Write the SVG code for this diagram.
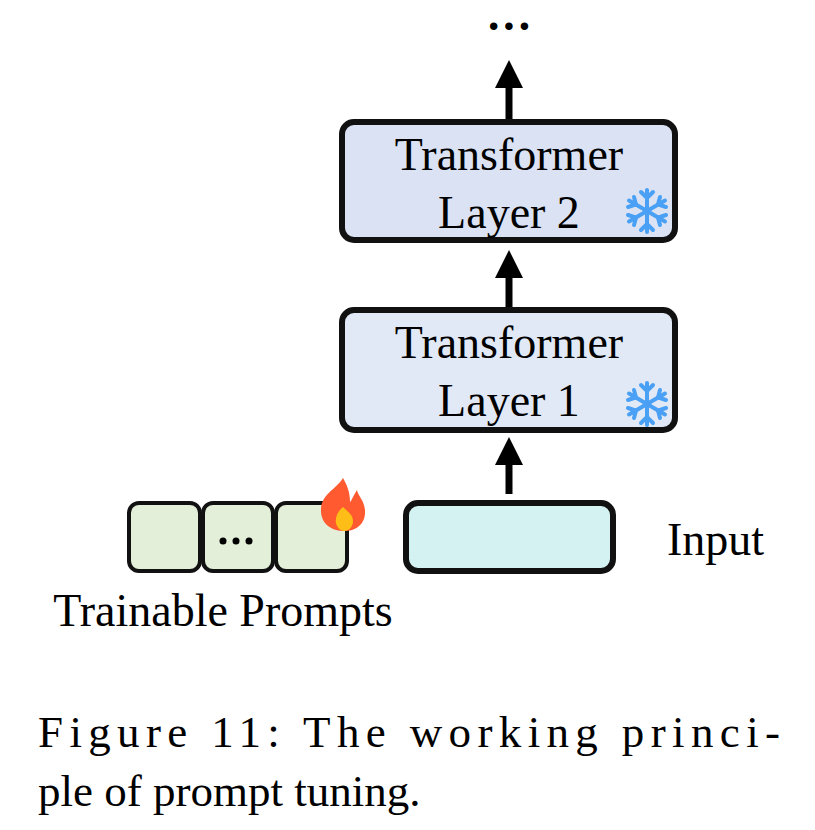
<svg xmlns="http://www.w3.org/2000/svg" width="815" height="830" viewBox="0 0 815 830">
<style>
.t{font-family:"Liberation Serif",serif;font-size:46px;fill:#000}
.box{stroke:#111;stroke-width:6}
.sf{stroke:#4aa0f5;stroke-width:4;stroke-linecap:round;fill:none}
.cap{font-family:"Liberation Serif",serif;font-size:45px;fill:#000}
</style>
<defs>
<marker id="ah" markerWidth="4" markerHeight="4" refX="2" refY="2" orient="auto" markerUnits="strokeWidth"><path d="M0,0 L4,2 L0,4 z" fill="#000"/></marker>
<g id="snow" class="sf">
<line x1="0" y1="-21" x2="0" y2="21"/><line x1="-18" y1="-10.5" x2="18" y2="10.5"/><line x1="-18" y1="10.5" x2="18" y2="-10.5"/>
<path d="M-6,-19 L0,-13 L6,-19 M-6,19 L0,13 L6,19 M-19,-4 L-11,-6.5 L-13,-14 M19,4 L11,6.5 L13,14 M-19,4 L-11,6.5 L-13,14 M19,-4 L11,-6.5 L13,-14"/>
</g>
</defs>
<rect width="815" height="830" fill="#fff"/>
<g id="connectors" stroke="#000" stroke-width="7">
<line x1="509" y1="122" x2="509" y2="74" marker-end="url(#ah)"/>
<line x1="509" y1="310" x2="509" y2="264" marker-end="url(#ah)"/>
<line x1="509" y1="494" x2="509" y2="451" marker-end="url(#ah)"/>
</g>
<text x="509" y="42" text-anchor="middle" class="t" font-weight="bold">···</text>
<g id="layer2">
<rect x="342" y="122" width="333" height="118" rx="12" fill="#dae2f4" class="box"/>
<text x="509" y="170" text-anchor="middle" class="t">Transformer</text>
<text x="509" y="228" text-anchor="middle" class="t">Layer 2</text>
<use href="#snow" x="647" y="211"/>
</g>
<g id="layer1">
<rect x="342" y="310" width="333" height="120" rx="12" fill="#e2e9f6" class="box"/>
<text x="509" y="358" text-anchor="middle" class="t">Transformer</text>
<text x="509" y="416" text-anchor="middle" class="t">Layer 1</text>
<use href="#snow" x="647" y="404"/>
</g>
<g id="prompts">
<rect x="129" y="503" width="71" height="68" rx="10" fill="#e3efd9" stroke="#111" stroke-width="4"/>
<rect x="203" y="503" width="70" height="68" rx="10" fill="#e3efd9" stroke="#111" stroke-width="4"/>
<rect x="276" y="503" width="71" height="68" rx="10" fill="#e3efd9" stroke="#111" stroke-width="4"/>
<circle cx="223" cy="541" r="3.5"/><circle cx="236" cy="541" r="3.5"/><circle cx="249" cy="541" r="3.5"/>
<g id="fire">
<path d="M343,478 C336,490 320,494 321,512 C322,526 334,531 344,531 C356,531 366,524 365,510 C364,500 358,496 357,490 C353,496 352,500 350,502 C350,492 347,485 343,478 z" fill="#ff5a30"/>
<path d="M343,507 C337,512 335,518 336,523 C337,528 341,531 344,531 C349,531 353,527 353,521 C353,515 348,512 343,507 z" fill="#ffbd17"/>
</g>
<text x="223" y="626" text-anchor="middle" class="t" font-size="42">Trainable Prompts</text>
</g>
<g id="input">
<rect x="406" y="503" width="207" height="68" rx="12" fill="#d4f2f1" class="box"/>
<text x="667" y="555" class="t" font-size="42">Input</text>
</g>
<text x="38" y="747" class="cap" textLength="742" lengthAdjust="spacing">Figure 11: The working princi-</text>
<text x="38" y="806" class="cap">ple of prompt tuning.</text>
</svg>
